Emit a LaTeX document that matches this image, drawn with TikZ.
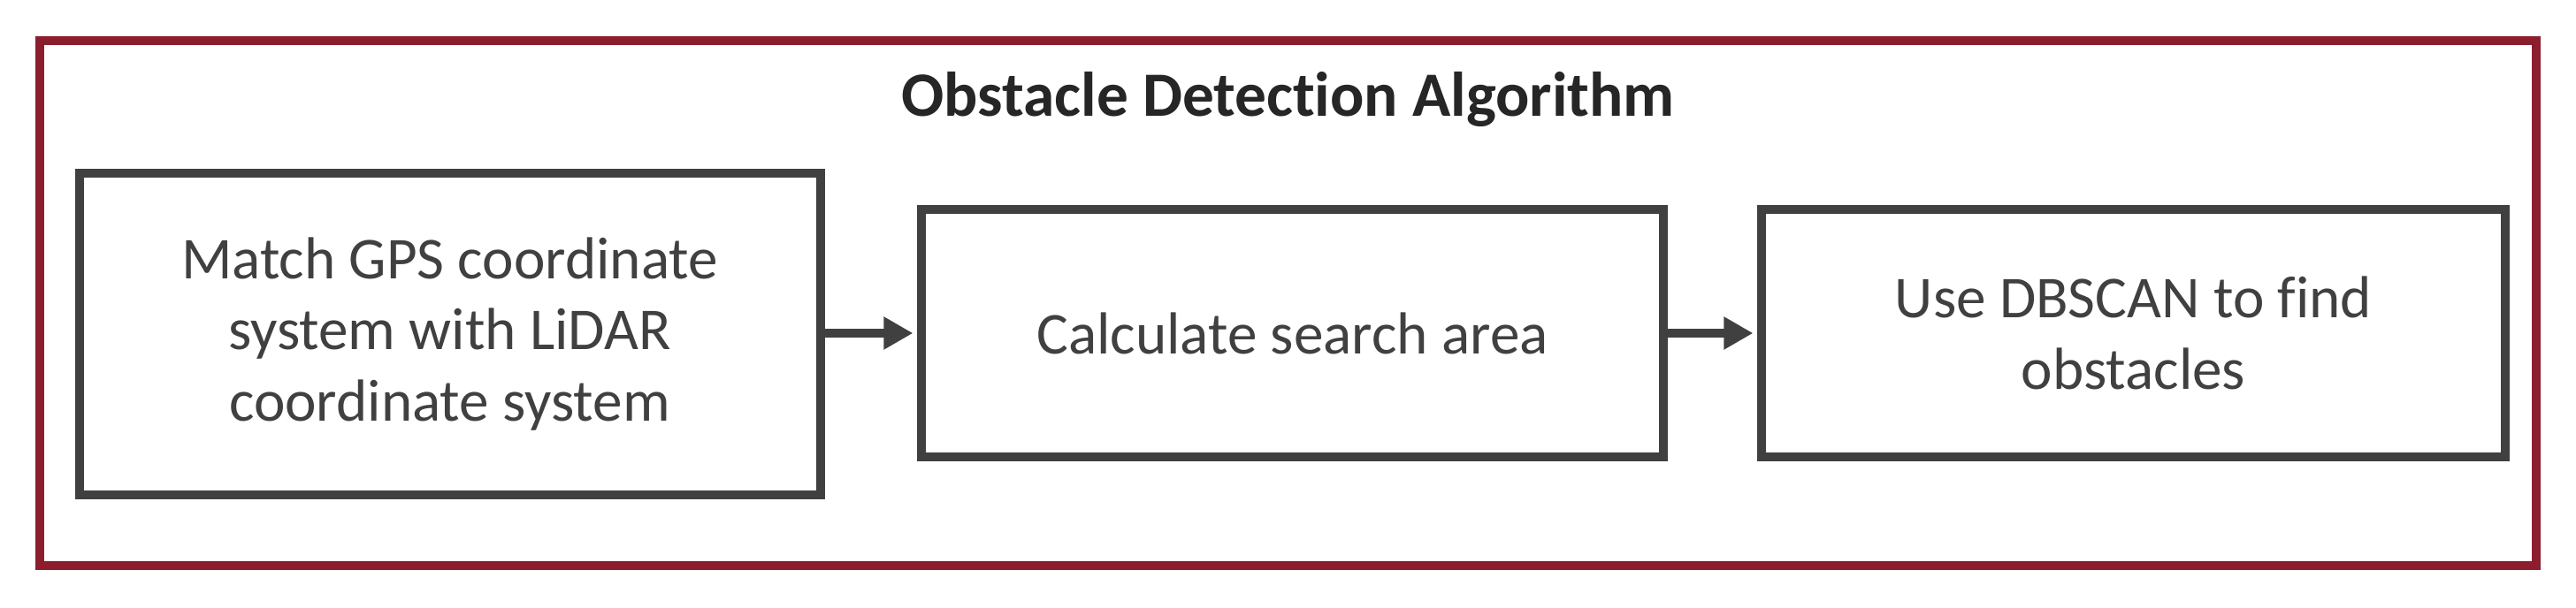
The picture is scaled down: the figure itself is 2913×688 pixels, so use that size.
\documentclass[tikz,border=0pt]{standalone}
\usepackage{fontspec}
\setmainfont[Ligatures={NoCommon},RawFeature={-liga;-dlig}]{Carlito}
\usetikzlibrary{arrows.meta}
\definecolor{framec}{RGB}{140,29,45}
\definecolor{boxc}{RGB}{64,64,64}
\definecolor{txtc}{RGB}{64,64,64}
\definecolor{ttlc}{RGB}{38,38,38}
\begin{document}
\begin{tikzpicture}[x=0.5pt,y=-0.5pt,
  stepbox/.style={draw=boxc, line width=5pt, rectangle, inner sep=0pt, align=center, text=txtc,
    font=\fontsize{33.6}{40.25}\selectfont},
  flow/.style={draw=boxc, line width=4.8pt, -{Triangle[length=16.5pt,width=17.5pt]}, shorten >=2.3pt},
  titlestyle/.style={inner sep=0pt, anchor=base, text=ttlc, font=\fontsize{35.7}{40}\selectfont\bfseries}]
\useasboundingbox (0,0) rectangle (2913,688);
\fill[white] (0,0) rectangle (2913,688);
\node[draw=framec, line width=5.25pt, rectangle, inner sep=0pt, minimum width=1411.5pt, minimum height=297pt] (frame) at (1456.5,343) {};
\node[titlestyle] (title) at (1456.5,131.6) {Obstacle Detection Algorithm};
\node[stepbox, minimum width=419pt, minimum height=182pt] (b1) at (508.5,378) {Match GPS coordinate\\system with LiDAR\\coordinate system};
\node[stepbox, minimum width=419.5pt, minimum height=140pt] (b2) at (1461.5,377) {Calculate search area};
\node[stepbox, minimum width=420.5pt, minimum height=140pt] (b3) at (2412.5,377) {Use DBSCAN to find\\obstacles};
\draw[flow] (b1.east |- b2.west) -- (b2.west);
\draw[flow] (b2.east) -- (b3.west);
\end{tikzpicture}
\end{document}
